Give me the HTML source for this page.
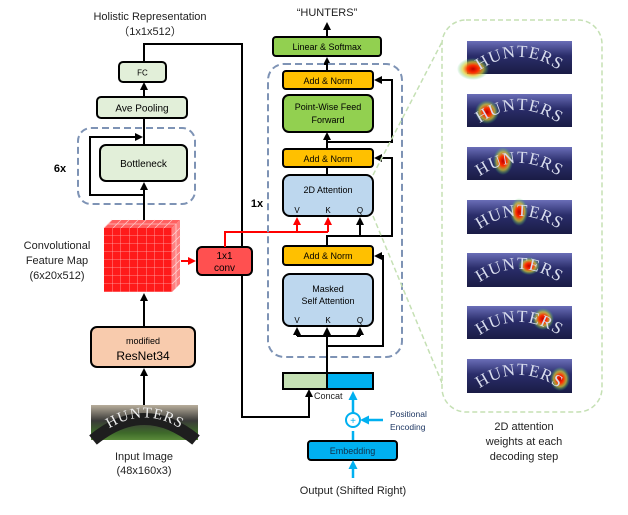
<!DOCTYPE html>
<html><head><meta charset="utf-8"><style>
html,body{margin:0;padding:0;background:#fff;}
svg{display:block;font-family:"Liberation Sans",sans-serif;}
</style></head><body>
<svg width="628" height="515" viewBox="0 0 628 515" xmlns="http://www.w3.org/2000/svg">
<defs>
<marker id="ab" markerWidth="8" markerHeight="8" refX="4" refY="4" orient="auto" markerUnits="userSpaceOnUse"><path d="M0,0 L8,4 L0,8 z" fill="#000"/></marker>
<marker id="ar" markerWidth="8" markerHeight="8" refX="4" refY="4" orient="auto" markerUnits="userSpaceOnUse"><path d="M0,0 L8,4 L0,8 z" fill="#f00"/></marker>
<marker id="au" markerWidth="9" markerHeight="9" refX="4" refY="4.5" orient="auto" markerUnits="userSpaceOnUse"><path d="M0,0 L9,4.5 L0,9 z" fill="#00b0f0"/></marker>
<linearGradient id="img" x1="0" y1="0" x2="0" y2="1"><stop offset="0" stop-color="#6a6eb8"/><stop offset="0.45" stop-color="#2a2d6a"/><stop offset="1" stop-color="#1a1c45"/></linearGradient>
<radialGradient id="hot"><stop offset="0" stop-color="#c00000"/><stop offset="0.35" stop-color="#ff3000"/><stop offset="0.65" stop-color="#e0d030" stop-opacity="0.7"/><stop offset="1" stop-color="#30c080" stop-opacity="0"/></radialGradient>
<linearGradient id="inp" x1="0" y1="0" x2="0" y2="1"><stop offset="0" stop-color="#b8ae9c"/><stop offset="0.45" stop-color="#3a3a38"/><stop offset="0.8" stop-color="#3e6a2a"/><stop offset="1" stop-color="#5a8a3a"/></linearGradient>
<path id="arc" d="M4,36 Q52,-4 101,36"/>
<path id="arc2" d="M94,440 Q144,395 196,440"/>
<pattern id="grid" width="8.5" height="8" patternUnits="userSpaceOnUse" x="104" y="228"><rect width="8.5" height="8" fill="#ff1a1a"/><path d="M8.5,0 V8 M0,8 H8.5" stroke="#ffb0b0" stroke-width="0.8"/></pattern>
</defs>

<text x="150" y="20" font-size="11" text-anchor="middle" fill="#222">Holistic Representation</text>
<text x="150" y="35" font-size="11" text-anchor="middle" fill="#222">（1x1x512）</text>
<polyline points="144,62 144,44 242,44 242,417 309,417 309,393" fill="none" stroke="#000" stroke-width="2" marker-end="url(#ab)"/>

<rect x="119" y="62" width="47" height="20" rx="4" fill="#e2efd9" stroke="#000" stroke-width="2"/>
<text x="142.5" y="75.5" font-size="8" text-anchor="middle">FC</text>
<line x1="144" y1="97" x2="144" y2="86" stroke="#000" stroke-width="2" marker-end="url(#ab)"/>
<rect x="97" y="97" width="90" height="21" rx="4" fill="#e2efd9" stroke="#000" stroke-width="2"/>
<text x="142" y="111.5" font-size="10" text-anchor="middle">Ave Pooling</text>
<line x1="144" y1="145" x2="144" y2="118" stroke="#000" stroke-width="2"/>
<rect x="78" y="128" width="117" height="76" rx="13" fill="none" stroke="#7e93b5" stroke-width="2" stroke-dasharray="7,4"/>
<rect x="100" y="145" width="87" height="36" rx="6" fill="#e2efd9" stroke="#000" stroke-width="2"/>
<text x="143.5" y="167" font-size="10" text-anchor="middle">Bottleneck</text>
<polyline points="144,195 90,195 90,137 139,137" fill="none" stroke="#000" stroke-width="2" marker-end="url(#ab)"/>
<line x1="144" y1="222" x2="144" y2="186" stroke="#000" stroke-width="2" marker-end="url(#ab)"/>
<text x="60" y="172" font-size="11" font-weight="bold" text-anchor="middle">6x</text>

<polygon points="104,228 112,220 180,220 172,228" fill="#ff6060"/>
<polygon points="172,228 180,220 180,284 172,292" fill="#ff8080"/>
<path d="M112,220 L104,228 M121,220 L113,228 M129,220 L121,228 M138,220 L130,228 M146,220 L138,228 M155,220 L147,228 M163,220 L155,228 M172,220 L164,228 M108,224 H176" stroke="#ffc0c0" stroke-width="0.8"/>
<path d="M172,236 L180,228 M172,244 L180,236 M172,252 L180,244 M172,260 L180,252 M172,268 L180,260 M172,276 L180,268 M172,284 L180,276 M176,224 V288" stroke="#ffd0d0" stroke-width="0.8"/>
<rect x="104" y="228" width="68" height="64" fill="url(#grid)"/>
<text x="57" y="249" font-size="11" text-anchor="middle" fill="#222">Convolutional</text>
<text x="57" y="264" font-size="11" text-anchor="middle" fill="#222">Feature Map</text>
<text x="57" y="279" font-size="11" text-anchor="middle" fill="#222">(6x20x512)</text>

<line x1="181" y1="261" x2="192" y2="261" stroke="#f00" stroke-width="2" marker-end="url(#ar)"/>
<rect x="197" y="247" width="55" height="28" rx="5" fill="#ff5050" stroke="#000" stroke-width="2"/>
<text x="224.5" y="259" font-size="10" text-anchor="middle">1x1</text>
<text x="224.5" y="271" font-size="10" text-anchor="middle">conv</text>
<polyline points="225,247 225,232 328,232" fill="none" stroke="#f00" stroke-width="2"/>
<line x1="297" y1="232" x2="297" y2="221" stroke="#f00" stroke-width="2" marker-end="url(#ar)"/>
<line x1="328" y1="232" x2="328" y2="221" stroke="#f00" stroke-width="2" marker-end="url(#ar)"/>
<text x="257" y="207" font-size="11" font-weight="bold" text-anchor="middle">1x</text>

<line x1="144" y1="327" x2="144" y2="297" stroke="#000" stroke-width="2" marker-end="url(#ab)"/>
<rect x="91" y="327" width="104" height="40" rx="6" fill="#f8cbad" stroke="#000" stroke-width="2"/>
<text x="143" y="344" font-size="9" text-anchor="middle">modified</text>
<text x="143" y="360" font-size="12" text-anchor="middle">ResNet34</text>
<line x1="144" y1="405" x2="144" y2="372" stroke="#000" stroke-width="2" marker-end="url(#ab)"/>
<rect x="91" y="405" width="107" height="35" fill="url(#inp)"/>
<path d="M93,440 Q144,398 196,440" fill="none" stroke="#1e1e1e" stroke-width="12"/>
<text font-size="15" font-family="Liberation Serif,serif" fill="#eee" letter-spacing="1"><textPath href="#arc2" startOffset="50%" text-anchor="middle">HUNTERS</textPath></text>
<text x="144" y="460" font-size="11" text-anchor="middle" fill="#222">Input Image</text>
<text x="144" y="474" font-size="11" text-anchor="middle" fill="#222">(48x160x3)</text>

<text x="327" y="16" font-size="11" text-anchor="middle" fill="#222">“HUNTERS”</text>
<line x1="327" y1="37" x2="327" y2="26" stroke="#000" stroke-width="2" marker-end="url(#ab)"/>
<rect x="273" y="37" width="108" height="19" rx="3" fill="#92d050" stroke="#000" stroke-width="2"/>
<text x="327" y="50" font-size="9" text-anchor="middle">Linear &amp; Softmax</text>
<line x1="327" y1="71" x2="327" y2="61" stroke="#000" stroke-width="2" marker-end="url(#ab)"/>
<rect x="268" y="64" width="134" height="293" rx="16" fill="none" stroke="#7e93b5" stroke-width="2" stroke-dasharray="7,4"/>
<rect x="283" y="71" width="90" height="18" rx="3" fill="#ffc000" stroke="#000" stroke-width="2"/>
<text x="328" y="84" font-size="9" text-anchor="middle">Add &amp; Norm</text>
<rect x="283" y="95" width="90" height="37" rx="6" fill="#92d050" stroke="#000" stroke-width="2"/>
<text x="328" y="110" font-size="9" text-anchor="middle">Point-Wise Feed</text>
<text x="328" y="123" font-size="9" text-anchor="middle">Forward</text>
<line x1="327" y1="149" x2="327" y2="136" stroke="#000" stroke-width="2" marker-end="url(#ab)"/>
<polyline points="327,142 392,142 392,80 378,80" fill="none" stroke="#000" stroke-width="2" marker-end="url(#ab)"/>
<rect x="283" y="149" width="90" height="18" rx="3" fill="#ffc000" stroke="#000" stroke-width="2"/>
<text x="328" y="162" font-size="9" text-anchor="middle">Add &amp; Norm</text>
<line x1="327" y1="175" x2="327" y2="167" stroke="#000" stroke-width="2"/>
<rect x="283" y="175" width="90" height="41" rx="7" fill="#bdd7ee" stroke="#000" stroke-width="2"/>
<text x="328" y="193" font-size="9" text-anchor="middle">2D Attention</text>
<text x="297" y="213" font-size="8" text-anchor="middle">V</text>
<text x="328" y="213" font-size="8" text-anchor="middle">K</text>
<text x="360" y="213" font-size="8" text-anchor="middle">Q</text>
<polyline points="327,246 327,236 392,236 392,158 378,158" fill="none" stroke="#000" stroke-width="2" marker-end="url(#ab)"/>
<line x1="360" y1="236" x2="360" y2="221" stroke="#000" stroke-width="2" marker-end="url(#ab)"/>
<rect x="283" y="246" width="90" height="19" rx="3" fill="#ffc000" stroke="#000" stroke-width="2"/>
<text x="328" y="259" font-size="9" text-anchor="middle">Add &amp; Norm</text>
<rect x="283" y="274" width="90" height="52" rx="7" fill="#bdd7ee" stroke="#000" stroke-width="2"/>
<text x="328" y="292" font-size="9" text-anchor="middle">Masked</text>
<text x="328" y="304" font-size="9" text-anchor="middle">Self Attention</text>
<text x="297" y="323" font-size="8" text-anchor="middle">V</text>
<text x="328" y="323" font-size="8" text-anchor="middle">K</text>
<text x="360" y="323" font-size="8" text-anchor="middle">Q</text>
<line x1="327" y1="373" x2="327" y2="336" stroke="#000" stroke-width="2"/>
<polyline points="297,336 360,336" fill="none" stroke="#000" stroke-width="2"/>
<line x1="297" y1="336" x2="297" y2="331" stroke="#000" stroke-width="2" marker-end="url(#ab)"/>
<line x1="327" y1="336" x2="327" y2="331" stroke="#000" stroke-width="2" marker-end="url(#ab)"/>
<line x1="360" y1="336" x2="360" y2="331" stroke="#000" stroke-width="2" marker-end="url(#ab)"/>
<polyline points="327,346 383,346 383,256 378,256" fill="none" stroke="#000" stroke-width="2" marker-end="url(#ab)"/>

<rect x="283" y="373" width="44" height="16" fill="#c5e0b4" stroke="#000" stroke-width="2"/>
<rect x="327" y="373" width="46" height="16" fill="#00b0f0" stroke="#000" stroke-width="2"/>
<text x="314" y="399" font-size="9" fill="#222">Concat</text>
<line x1="353" y1="413" x2="353" y2="396" stroke="#00b0f0" stroke-width="2.5" marker-end="url(#au)"/>
<circle cx="353" cy="420" r="7" fill="#fff" stroke="#00b0f0" stroke-width="2"/>
<text x="353" y="424" font-size="10" text-anchor="middle" fill="#00b0f0">+</text>
<line x1="383" y1="420" x2="365" y2="420" stroke="#00b0f0" stroke-width="2.5" marker-end="url(#au)"/>
<line x1="353" y1="441" x2="353" y2="431" stroke="#00b0f0" stroke-width="2.5"/>
<text x="390" y="417" font-size="8.5" fill="#1f3864">Positional</text>
<text x="390" y="430" font-size="8.5" fill="#1f3864">Encoding</text>
<rect x="308" y="441" width="89" height="19" rx="3" fill="#00b0f0" stroke="#000" stroke-width="2"/>
<text x="352.5" y="454" font-size="9" text-anchor="middle" fill="#10304a">Embedding</text>
<line x1="353" y1="478" x2="353" y2="465" stroke="#00b0f0" stroke-width="2.5" marker-end="url(#au)"/>
<text x="353" y="494" font-size="11" text-anchor="middle" fill="#222">Output (Shifted Right)</text>

<line x1="373" y1="175" x2="442" y2="42" stroke="#c5e0b4" stroke-width="1.5" stroke-dasharray="5,3"/>
<line x1="373" y1="216" x2="442" y2="383" stroke="#c5e0b4" stroke-width="1.5" stroke-dasharray="5,3"/>
<rect x="442" y="20" width="160" height="392" rx="24" fill="#fff" stroke="#c5e0b4" stroke-width="1.5" stroke-dasharray="5,3"/>
<g font-family="Liberation Serif,serif">
<g transform="translate(467,41)"><rect width="105" height="33" fill="url(#img)"/><ellipse cx="6" cy="28" rx="16" ry="11" fill="url(#hot)"/><text font-size="17" fill="#d8dced" letter-spacing="1"><textPath href="#arc" startOffset="50%" text-anchor="middle">HUNTERS</textPath></text></g>
<g transform="translate(467,94)"><rect width="105" height="33" fill="url(#img)"/><ellipse cx="20" cy="18" rx="12" ry="12" fill="url(#hot)"/><text font-size="17" fill="#d8dced" letter-spacing="1"><textPath href="#arc" startOffset="50%" text-anchor="middle">HUNTERS</textPath></text></g>
<g transform="translate(467,147)"><rect width="105" height="33" fill="url(#img)"/><ellipse cx="36" cy="14" rx="10" ry="14" fill="url(#hot)"/><text font-size="17" fill="#d8dced" letter-spacing="1"><textPath href="#arc" startOffset="50%" text-anchor="middle">HUNTERS</textPath></text></g>
<g transform="translate(467,200)"><rect width="105" height="34" fill="url(#img)"/><ellipse cx="52" cy="12" rx="9" ry="14" fill="url(#hot)"/><text font-size="17" fill="#d8dced" letter-spacing="1"><textPath href="#arc" startOffset="50%" text-anchor="middle">HUNTERS</textPath></text></g>
<g transform="translate(467,253)"><rect width="105" height="34" fill="url(#img)"/><ellipse cx="62" cy="13" rx="11" ry="9" fill="url(#hot)"/><text font-size="17" fill="#d8dced" letter-spacing="1"><textPath href="#arc" startOffset="50%" text-anchor="middle">HUNTERS</textPath></text></g>
<g transform="translate(467,306)"><rect width="105" height="33" fill="url(#img)"/><ellipse cx="76" cy="13" rx="11" ry="11" fill="url(#hot)"/><text font-size="17" fill="#d8dced" letter-spacing="1"><textPath href="#arc" startOffset="50%" text-anchor="middle">HUNTERS</textPath></text></g>
<g transform="translate(467,359)"><rect width="105" height="34" fill="url(#img)"/><ellipse cx="93" cy="20" rx="10" ry="12" fill="url(#hot)"/><text font-size="17" fill="#d8dced" letter-spacing="1"><textPath href="#arc" startOffset="50%" text-anchor="middle">HUNTERS</textPath></text></g>
</g>
<text x="524" y="430" font-size="11" text-anchor="middle" fill="#222">2D attention</text>
<text x="524" y="445" font-size="11" text-anchor="middle" fill="#222">weights at each</text>
<text x="524" y="460" font-size="11" text-anchor="middle" fill="#222">decoding step</text>
</svg>
</body></html>
